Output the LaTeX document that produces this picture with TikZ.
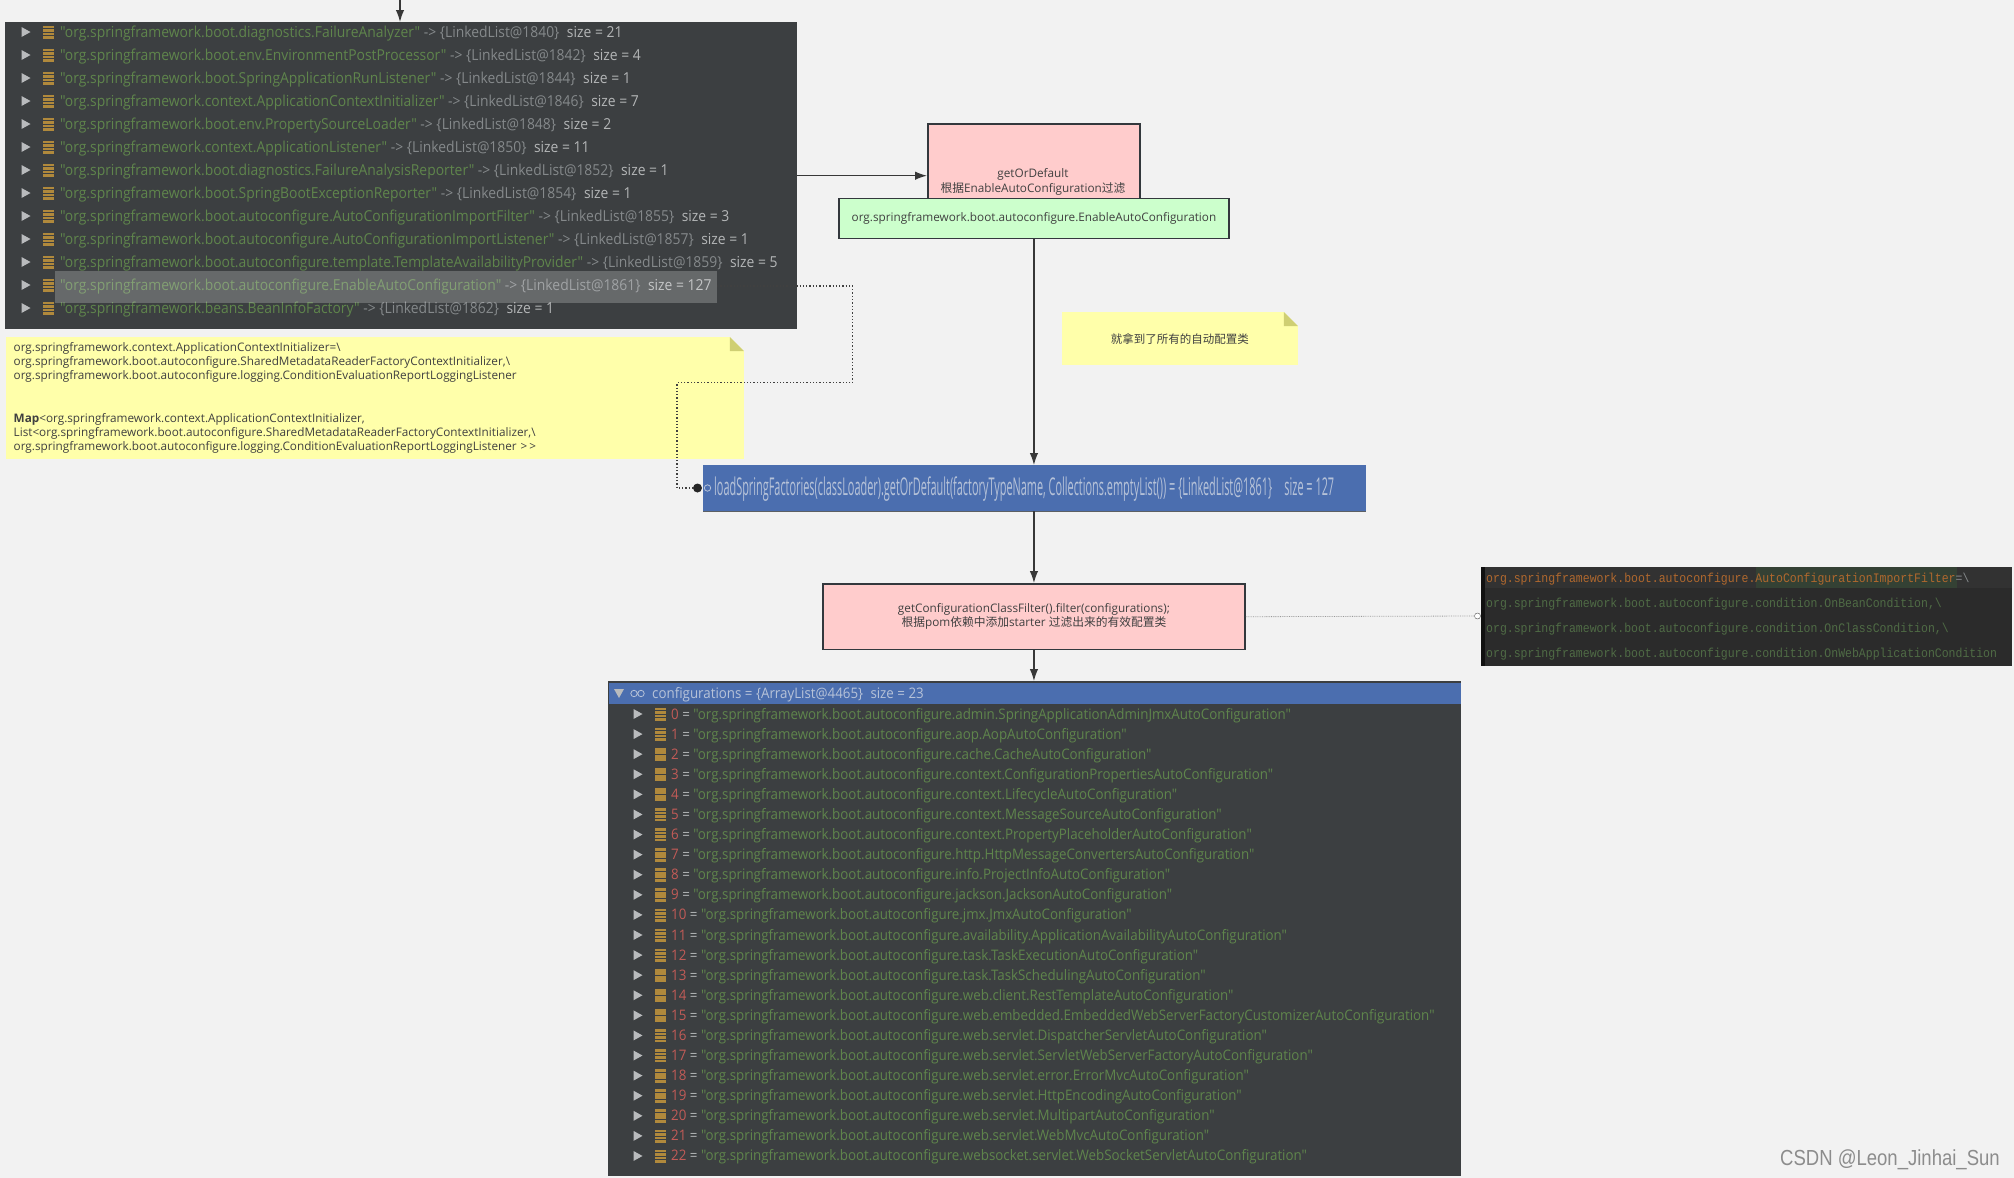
\documentclass[tikz,border=0pt]{standalone}
\usepackage{xcolor}
\usepackage{fontspec}
\usepackage{tikz}
\usetikzlibrary{calc, arrows.meta}
\setmainfont{Open Sans}
\newfontfamily\cjkfont{Noto Sans CJK SC}
\newfontfamily\ideafont[FakeStretch=0.92]{Open Sans}
\newfontfamily\barfont[FakeStretch=0.445]{Open Sans}
\newfontfamily\codefont[FakeStretch=0.885]{Liberation Mono}
\newfontfamily\markfont[FakeStretch=0.85]{Liberation Sans}

\definecolor{pagebg}{HTML}{F2F2F2}
\definecolor{panelbg}{HTML}{3C3F41}
\definecolor{strgreen}{HTML}{5F854C}
\definecolor{dimgray}{HTML}{85898B}
\definecolor{sizegray}{HTML}{B4B6B7}
\definecolor{numred}{HTML}{C25B57}
\definecolor{iconarrow}{HTML}{B9BBBD}
\definecolor{icongold}{HTML}{B0893C}
\definecolor{selblue}{HTML}{4B6EAF}
\definecolor{bartext}{HTML}{B6C2D8}
\definecolor{nodepink}{HTML}{FFCCCC}
\definecolor{nodegreen}{HTML}{CCFFCC}
\definecolor{noteyellow}{HTML}{FFFFAA}
\definecolor{notefoldc}{HTML}{CFCF73}
\definecolor{edgedark}{HTML}{33383D}
\definecolor{codebg}{HTML}{2B2B2B}
\definecolor{codetop}{HTML}{323232}
\definecolor{codehit}{HTML}{344134}
\definecolor{codeorange}{HTML}{B0682E}
\definecolor{codegreen}{HTML}{4F6B45}

\tikzset{
    panelbox/.style={fill=panelbg, inner sep=0pt, anchor=north west},
    rowtext/.style={anchor=west, inner sep=0pt, text height=9pt, text depth=3pt, font=\ideafont\fontsize{15.1}{16}\selectfont},
    listtext/.style={rowtext, font=\ideafont\fontsize{14.5}{16}\selectfont},
    flowbox/.style={draw=edgedark, line width=1.9pt, fill=nodepink, inner sep=0pt, text=black!75, align=center, font=\fontsize{11.75}{14.2}\selectfont},
    notebox/.style={fill=noteyellow, inner sep=0pt, text=black!75, font=\fontsize{11.75}{14.2}\selectfont},
    codeline/.style={anchor=west, inner sep=0pt, text=codegreen, font=\codefont\fontsize{13}{14}\selectfont},
    flowline/.style={draw=black!78, line width=1.3pt},
}

\newcommand{\notefold}[1]{%
    \fill[pagebg] (#1.north east) -- ++(-14,0) -- ++(14,14) -- cycle;
    \fill[notefoldc] ($(#1.north east)+(-14,0)$) -- ++(0,14) -- ++(14,0) -- cycle;
}
\newcommand{\treemark}[2]{%
    \fill[iconarrow] (#1-4,#2-5) -- (#1+5,#2) -- (#1-4,#2+5) -- cycle;
    \foreach \b in {-5,-1.5,2,5.5}
        \fill[icongold] (#1+17,#2+\b-1.4) rectangle (#1+28,#2+\b+1.4);
}

\begin{document}
\begin{tikzpicture}[x=1pt, y=-1pt, >={Latex[length=12pt,width=8.5pt]}]
    \useasboundingbox (0,0) rectangle (2014,1178);
    \fill[pagebg] (0,0) rectangle (2014,1178);

    % 1. Top left debug panel
    \coordinate (topin) at (400,0);
    \node[panelbox, minimum width=792pt, minimum height=307pt] (factories) at (5,22) {};
    \foreach \i/\name/\id/\size in {
        0/boot.diagnostics.FailureAnalyzer/1840/21,
        1/boot.env.EnvironmentPostProcessor/1842/4,
        2/boot.SpringApplicationRunListener/1844/1,
        3/context.ApplicationContextInitializer/1846/7,
        4/boot.env.PropertySourceLoader/1848/2,
        5/context.ApplicationListener/1850/11,
        6/boot.diagnostics.FailureAnalysisReporter/1852/1,
        7/boot.SpringBootExceptionReporter/1854/1,
        8/boot.autoconfigure.AutoConfigurationImportFilter/1855/3,
        9/boot.autoconfigure.AutoConfigurationImportListener/1857/1,
        10/boot.autoconfigure.template.TemplateAvailabilityProvider/1859/5,
        11/boot.autoconfigure.EnableAutoConfiguration/1861/127,
        12/beans.BeanInfoFactory/1862/1} {
        \pgfmathsetmacro{\rowy}{34+23*\i}
        \treemark{25.5}{\rowy-2}
        \node[rowtext] (factory\i) at (60,\rowy) {\textcolor{strgreen}{"org.springframework.\name"} \textcolor{dimgray}{-> \{LinkedList@\id\}}\enspace\textcolor{sizegray}{size = \size}};
    }
    \fill[white, opacity=0.22] (55,271) rectangle (717,303);
    \coordinate (selrow) at (717,286);

    % 2. Note with the properties text
    \node[notebox, anchor=north west, minimum width=737pt, minimum height=122pt, text width=722pt, inner xsep=8pt, align=left] (propnote) at (5.5,337) {org.springframework.context.ApplicationContextInitializer=\textbackslash\\
    org.springframework.boot.autoconfigure.SharedMetadataReaderFactoryContextInitializer,\textbackslash\\
    org.springframework.boot.autoconfigure.logging.ConditionEvaluationReportLoggingListener\\[28.4pt]
    \textbf{Map}<org.springframework.context.ApplicationContextInitializer,\\
    List<org.springframework.boot.autoconfigure.SharedMetadataReaderFactoryContextInitializer,\textbackslash\\
    org.springframework.boot.autoconfigure.logging.ConditionEvaluationReportLoggingListener >\,>};
    \notefold{propnote}

    % 3. Flow boxes
    \node[flowbox, anchor=north west, minimum width=212pt, minimum height=114pt] (getdefault) at (927,123) {};
    \node[text=black!75, inner sep=0pt, align=center, font=\fontsize{11.75}{14.2}\selectfont] (getlabel) at (1033,182) {getOrDefault\\{\cjkfont 根据}EnableAutoConfiguration{\cjkfont 过滤}};
    \node[flowbox, fill=nodegreen, anchor=north west, minimum width=390pt, minimum height=40pt] (enablekey) at (838,197.5) {org.springframework.boot.autoconfigure.EnableAutoConfiguration};
    \node[notebox, anchor=north west, minimum width=235.5pt, minimum height=53pt, font=\fontsize{11.5}{14.2}\selectfont] (allnote) at (1062,312) {\cjkfont 就拿到了所有的自动配置类};
    \notefold{allnote}
    \node[fill=selblue, inner sep=0pt, anchor=north west, minimum width=663pt, minimum height=46pt] (loadbar) at (703,465) {};
    \draw[edgedark!80, line width=1pt] (loadbar.south west) -- (loadbar.south east);
    \draw[bartext, line width=0.8pt] (707.5,488) circle (3.2);
    \node[anchor=west, inner sep=0pt, text=bartext, font=\barfont\fontsize{24.5}{26}\selectfont] (loadtext) at (714,489) {loadSpringFactories(classLoader).getOrDefault(factoryTypeName, Collections.emptyList()) = \{LinkedList@1861\}\enspace size = 127};
    \node[flowbox, anchor=north west, minimum width=422pt, minimum height=65.5pt] (filterbox) at (822,583) {getConfigurationClassFilter().filter(configurations);\\{\cjkfont 根据}pom{\cjkfont 依赖中添加}starter {\cjkfont 过滤出来的有效配置类}};

    % 4. spring.factories panel
    \node[panelbox, fill=codebg, minimum width=530.5pt, minimum height=99.5pt] (codepanel) at (1481,566.7) {};
    \fill[codetop] (1481,566.7) rectangle (2011.5,588);
    \fill[codehit] (1756,566.7) rectangle (1957,588);
    \fill[black!60!codebg] (1481,566.7) rectangle (1485,666.2);
    \node[codeline] (code0) at (1486,579) {\textcolor{codeorange}{org.springframework.boot.autoconfigure.AutoConfigurationImportFilter}\textcolor{dimgray}{=\textbackslash}};
    \node[codeline] (code1) at (1486,604) {org.springframework.boot.autoconfigure.condition.OnBeanCondition,\textbackslash};
    \node[codeline] (code2) at (1486,629) {org.springframework.boot.autoconfigure.condition.OnClassCondition,\textbackslash};
    \node[codeline] (code3) at (1486,654) {org.springframework.boot.autoconfigure.condition.OnWebApplicationCondition};

    % 5. Bottom debug panel
    \node[panelbox, minimum width=852.5pt, minimum height=495pt] (configs) at (608,681) {};
    \fill[selblue] (609,683) rectangle (1460.5,703.7);
    \fill[iconarrow] (614,689) -- (624,689) -- (619,698) -- cycle;
    \draw[bartext, line width=0.8pt] (634,693.5) circle (3.2) (641,693.5) circle (3.2);
    \node[listtext, text=bartext] (confighead) at (652,695) {configurations = \{ArrayList@4465\}\enspace size = 23};
    \foreach \i/\name in {
        0/admin.SpringApplicationAdminJmxAutoConfiguration,
        1/aop.AopAutoConfiguration,
        2/cache.CacheAutoConfiguration,
        3/context.ConfigurationPropertiesAutoConfiguration,
        4/context.LifecycleAutoConfiguration,
        5/context.MessageSourceAutoConfiguration,
        6/context.PropertyPlaceholderAutoConfiguration,
        7/http.HttpMessageConvertersAutoConfiguration,
        8/info.ProjectInfoAutoConfiguration,
        9/jackson.JacksonAutoConfiguration,
        10/jmx.JmxAutoConfiguration,
        11/availability.ApplicationAvailabilityAutoConfiguration,
        12/task.TaskExecutionAutoConfiguration,
        13/task.TaskSchedulingAutoConfiguration,
        14/web.client.RestTemplateAutoConfiguration,
        15/web.embedded.EmbeddedWebServerFactoryCustomizerAutoConfiguration,
        16/web.servlet.DispatcherServletAutoConfiguration,
        17/web.servlet.ServletWebServerFactoryAutoConfiguration,
        18/web.servlet.error.ErrorMvcAutoConfiguration,
        19/web.servlet.HttpEncodingAutoConfiguration,
        20/web.servlet.MultipartAutoConfiguration,
        21/web.servlet.WebMvcAutoConfiguration,
        22/websocket.servlet.WebSocketServletAutoConfiguration} {
        \pgfmathsetmacro{\rowy}{716+20.09*\i}
        \treemark{637.5}{\rowy-2}
        \node[listtext] (config\i) at (671,\rowy) {\textcolor{numred}{\i} \textcolor{sizegray}{=} \textcolor{strgreen}{"org.springframework.boot.autoconfigure.\name"}};
    }

    % 6. Connectors
    \draw[flowline, ->] (topin) -- (topin |- factories.north);
    \draw[flowline, ->] (factories.east) -- (factories.east -| getdefault.west);
    \draw[flowline, ->] (enablekey.south) -- (enablekey.south |- loadbar.north);
    \draw[flowline, ->] (filterbox.north |- loadbar.south) -- (filterbox.north);
    \draw[flowline, ->] (filterbox.south) -- (filterbox.south |- configs.north);

    \node[circle, fill=black!85, inner sep=0pt, minimum size=9pt] (loadpin) at (697.5,488) {};
    \coordinate (bendA) at (852.5,286);
    \coordinate (bendB) at (852.5,382.7);
    \coordinate (bendC) at (677,382.7);
    \coordinate (bendD) at (677,488);
    \draw[black!75, line width=1.3pt, dotted] (selrow) -- (bendA) -- (bendB) -- (bendC) -- (bendD) -- (loadpin);

    \node[circle, draw=black!70, fill=white, inner sep=0pt, minimum size=6pt] (filterpin) at (1477.5,616) {};
    \draw[black!40, line width=0.8pt, densely dotted] (filterbox.east) -- (filterpin);

    % 7. Corner mark
    \node[anchor=east, inner sep=0pt, text=black!45, font=\markfont\fontsize{21.8}{22}\selectfont] (csdnmark) at (2000,1160) {CSDN @Leon\_Jinhai\_Sun};
\end{tikzpicture}
\end{document}
